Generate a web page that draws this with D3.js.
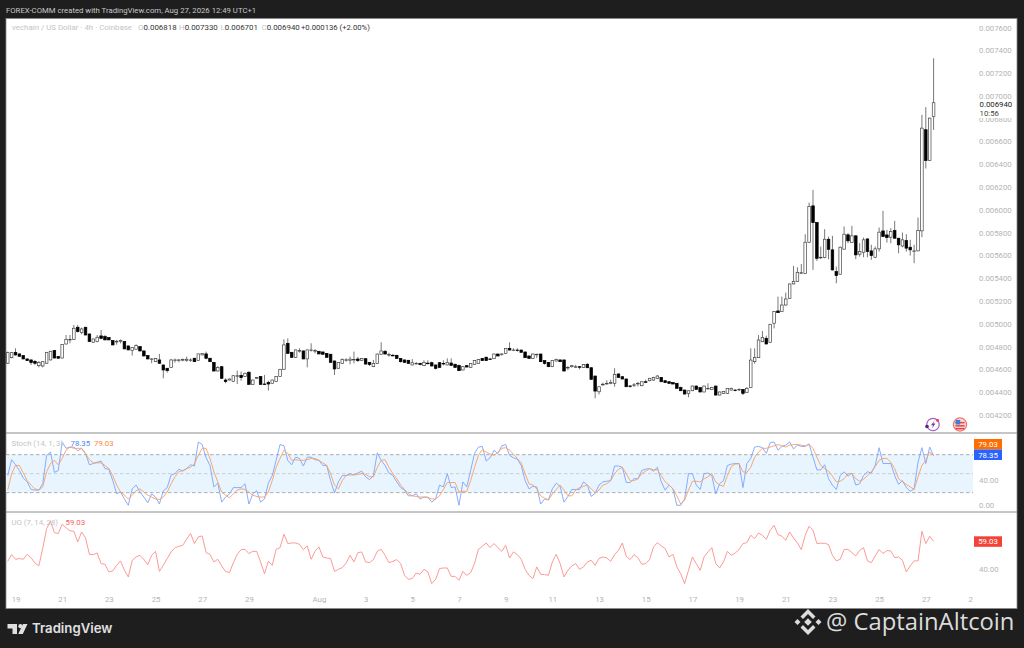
<!DOCTYPE html>
<html lang="en">
    <head>
        <meta charset="utf-8">
        <title>VET / USD 4h</title>
        <script type="text/javascript" src="https://d3js.org/d3.v7.min.js"></script>
        <style>
            html, body { margin: 0; padding: 0; background: #1e1e1e; overflow: hidden; }
            svg { display: block; }
            text { font-family: Roboto, sans-serif; }
            .axis path { display: none; }
            .axis text { font-family: Roboto, sans-serif; font-size: 7.8px; fill: #b4b4b4; }
        </style>
    </head>
    <body>
        <script type="text/javascript">
            // prices are in millionths of a dollar, first bar is two bars before the "19" tick
            var opens = [
                4654,4703,4750,4736,4721,4692,4683,4671,4633,4630,
                4654,4683,4765,4712,4700,4823,4859,4864,4970,4923,
                4970,4911,4838,4844,4894,4888,4879,4853,4841,4844,
                4844,4806,4765,4777,4800,4762,4721,4689,4668,4683,
                4639,4610,4616,4680,4683,4683,4680,4683,4698,4677,
                4727,4736,4698,4662,4586,4624,4507,4507,4493,4545,
                4548,4537,4575,4469,4522,4537,4472,4484,4478,4493,
                4537,4601,4829,4750,4706,4765,4762,4692,4771,4765,
                4759,4753,4741,4733,4674,4610,4653,4683,4680,4685,
                4691,4680,4694,4662,4624,4653,4733,4759,4730,4724,
                4724,4697,4683,4680,4639,4653,4653,4633,4655,4659,
                4639,4659,4653,4639,4656,4645,4636,4595,4633,4618,
                4642,4653,4697,4707,4692,4694,4735,4735,4741,4785,
                4770,4770,4770,4753,4718,4697,4730,4735,4677,4662,
                4624,4674,4683,4683,4615,4624,4624,4624,4618,4645,
                4615,4542,4404,4470,4478,4478,4478,4560,4536,4516,
                4455,4462,4478,4457,4492,4501,4507,4522,4530,4501,
                4492,4484,4478,4440,4419,4390,4413,4454,4440,4402,
                4434,4425,4454,4375,4390,4390,4419,4419,4425,4425,
                4399,4442,4668,4703,4843,4873,4838,5005,5113,5107,
                5165,5224,5350,5373,5443,5443,5716,6035,5888,5584,
                5581,5742,5649,5459,5435,5655,5781,5713,5772,5611,
                5628,5745,5640,5584,5658,5815,5780,5760,5819,5751,
                5683,5731,5672,5640,5640,5816,6703,6433,6818
            ];
            var highs = [
                4756,4753,4785,4739,4724,4695,4689,4683,4674,4671,
                4753,4762,4771,4715,4821,4902,4902,4990,4990,4967,
                4973,4914,4870,4902,4946,4902,4882,4856,4859,4864,
                4847,4809,4794,4820,4803,4765,4724,4698,4698,4736,
                4642,4613,4692,4695,4692,4695,4712,4698,4701,4739,
                4742,4756,4701,4665,4630,4627,4522,4519,4548,4589,
                4581,4572,4584,4510,4534,4540,4551,4501,4510,4540,
                4604,4864,4873,4753,4774,4785,4765,4774,4829,4777,
                4762,4756,4744,4736,4677,4663,4697,4697,4712,4756,
                4710,4700,4697,4665,4683,4738,4838,4770,4747,4736,
                4727,4700,4686,4683,4690,4665,4659,4680,4680,4668,
                4642,4662,4680,4697,4697,4650,4640,4627,4636,4656,
                4680,4691,4700,4712,4695,4738,4738,4744,4788,4838,
                4786,4785,4773,4756,4721,4738,4738,4738,4680,4665,
                4680,4695,4688,4686,4630,4640,4640,4630,4645,4655,
                4618,4545,4451,4485,4505,4510,4610,4565,4539,4519,
                4460,4480,4490,4495,4510,4525,4535,4550,4533,4504,
                4495,4487,4481,4450,4422,4416,4457,4460,4443,4457,
                4478,4448,4457,4405,4410,4437,4440,4425,4434,4428,
                4445,4785,4785,4902,4937,4896,4999,5110,5239,5239,
                5274,5353,5508,5496,5525,5786,6064,6175,5891,5678,
                5830,5765,5772,5502,5678,5854,5795,5860,5775,5707,
                5757,5748,5693,5678,5845,5991,5824,5839,5903,5754,
                5801,5786,5737,5693,5933,6834,6902,6808,7330
            ];
            var lows = [
                4648,4697,4721,4712,4689,4674,4639,4639,4618,4618,
                4651,4680,4697,4695,4697,4820,4829,4861,4923,4908,
                4900,4841,4835,4838,4864,4856,4856,4812,4818,4829,
                4777,4768,4721,4774,4759,4715,4689,4654,4665,4648,
                4522,4572,4613,4660,4662,4671,4668,4666,4665,4674,
                4724,4689,4665,4583,4583,4519,4478,4504,4490,4472,
                4501,4534,4466,4466,4516,4466,4463,4414,4475,4490,
                4534,4598,4738,4703,4703,4747,4689,4618,4756,4741,
                4733,4730,4703,4659,4551,4607,4650,4668,4645,4653,
                4665,4675,4644,4630,4621,4650,4730,4732,4712,4715,
                4694,4660,4656,4650,4636,4645,4636,4630,4645,4627,
                4600,4612,4635,4636,4630,4612,4586,4592,4618,4615,
                4639,4650,4674,4674,4688,4691,4715,4720,4738,4767,
                4760,4756,4747,4700,4694,4694,4700,4665,4642,4621,
                4621,4671,4665,4583,4595,4615,4612,4600,4612,4610,
                4510,4346,4380,4455,4465,4470,4448,4527,4513,4445,
                4440,4445,4450,4453,4480,4495,4500,4515,4489,4481,
                4475,4469,4431,4410,4381,4355,4410,4422,4399,4399,
                4425,4420,4372,4372,4385,4387,4416,4408,4412,4375,
                4396,4440,4650,4700,4840,4820,4835,4960,5095,5104,
                5160,5220,5347,5370,5440,5440,5710,5473,5552,5570,
                5575,5566,5467,5356,5432,5652,5707,5710,5567,5590,
                5584,5584,5561,5576,5634,5763,5713,5707,5748,5619,
                5672,5634,5599,5532,5637,5760,6363,6430,6701
            ];
            var closes = [
                4747,4747,4727,4715,4692,4677,4660,4654,4662,4668,
                4750,4759,4700,4698,4818,4864,4864,4961,4932,4955,
                4902,4844,4867,4882,4873,4859,4859,4815,4847,4853,
                4780,4771,4791,4809,4762,4718,4692,4692,4695,4654,
                4595,4589,4683,4683,4683,4686,4689,4683,4668,4736,
                4739,4698,4668,4586,4618,4522,4493,4516,4545,4545,
                4528,4566,4469,4507,4528,4469,4469,4472,4507,4537,
                4601,4815,4741,4706,4771,4765,4692,4771,4771,4765,
                4736,4733,4706,4662,4604,4660,4688,4685,4690,4688,
                4677,4697,4647,4642,4653,4735,4762,4735,4730,4722,
                4697,4668,4662,4653,4659,4653,4642,4662,4653,4630,
                4609,4618,4650,4662,4636,4618,4589,4624,4621,4653,
                4677,4688,4677,4677,4690,4735,4718,4735,4785,4770,
                4770,4768,4750,4703,4697,4735,4733,4668,4653,4624,
                4677,4688,4668,4586,4618,4633,4624,4622,4642,4615,
                4513,4410,4448,4470,4478,4486,4557,4530,4516,4448,
                4453,4465,4478,4492,4490,4522,4530,4542,4492,4484,
                4478,4472,4434,4413,4384,4413,4454,4425,4402,4454,
                4434,4442,4375,4402,4407,4434,4434,4417,4425,4390,
                4434,4682,4706,4858,4881,4823,4996,5107,5098,5165,
                5218,5350,5373,5452,5449,5716,6029,5888,5575,5584,
                5742,5654,5473,5423,5672,5786,5728,5772,5605,5634,
                5737,5634,5599,5658,5804,5766,5757,5810,5751,5693,
                5737,5664,5649,5640,5818,6717,6433,6805,6940
            ];
            var stochK = [
                47,72,64,55,43,37,25,24,24,34,
                79,84,52,55,100,90,92,92,86,90,
                82,64,66,68,70,58,57,39,18.5,21,
                10,0,26,32,21,13,4,18,13,2,
                23,28,48,50,57,54,58,64,62,100,
                96,75,63,29,35,5,13,18,28,28,
                28,34,2,18,23,5,10,35,47,71,
                96,94,71,64,76,74,62,76,76,72,
                71,63,63,39,19.5,37,47,47,50,48,
                51,54,45,40.5,47,83,71,63,51,47,
                37,28,24,15,15,18,10,13,13,5,
                10,32,29,50,28,29,0,37,29,55,
                82,92,93,70,75,87,82,94,96,79,
                75,73,63,39,26,30,29,2,10,9,
                26,35,30,5,14,25,25,25,37,32,
                14,19,32,37,38,39,62,62,60,36,
                36,42,42,55,57,58,54,60,37,24,
                32,26,0,0,10,50,50,32,25,50,
                51,47,18,34,39,63,65,66,66,28,
                66,74,92,93,91,82,99,100,87,93,
                95,100,89,95,93,93,97,76,56,56,
                64,42,32,25,47,53,46,51,32,34,
                47,53,51,63,91,66,66,66,47,33,
                39,28,22,26,68,91,66,92,78.35
            ];
            var stochD = [
                24,50,63,63,51,39,32,26,24,29,
                53,66,71,64,74,87,92,90,90,90,
                81,72,67,67,67,63,58,47,32,21,
                16,10,16,23,26,21,16,13,10,9,
                13,21,34,45,53,55,58,60,66,79,
                90,90,74,53,37,21,16,12,18,24,
                26,25,21,16,14,13,13,21,39,60,
                74,87,82,71,72,71,71,72,74,74,
                71,67,63,50,32,26,39,47,48,48,
                49,50,49,45,45,60,71,72,60,50,
                42,32,25,18,15,14,13,13,12,10,
                10,15,25,36,36,36,21,22,22,39,
                60,79,88,84,81,79,83,90,91,87,
                81,74,67,50,34,32,26,15,11,8,
                18,25,32,24,15,15,24,28,30,32,
                26,20,24,32,34,39,50,57,60,50,
                39,39,42,50,54,58,56,56,47,37,
                32,26,15,2,8,24,38,38,37,42,
                45,50,37,32,30,47,61,65,66,53,
                52,60,76,84,90,90,92,94,96,94,
                92,95,96,96,95,94,96,90,76,63,
                58,54,46,37,38,42,50,50,42,38,
                41,47,53,61,71,74,74,68,58,42,
                37,33,29,25,45,63,71,84,79.03
            ];
            var uo = [
                45.4,50,46.8,47.3,46.8,50.2,47.9,44.3,42.3,54.1,
                67.7,72.7,64.9,64.3,70.6,68.3,66.1,65.9,58.6,65.4,
                61.3,50.2,50,51.1,43.9,43.4,38.2,38.9,42.7,45.7,
                39.3,34.8,46.1,48.4,49.5,46.6,43.2,49.5,52.2,38.6,
                42.7,47.3,51.8,54.7,55.6,56.3,60.4,64.3,57.5,62,
                62.7,51.3,50.2,45,46.8,42.3,38.6,37.7,44.5,50.2,
                53.4,53.6,50.7,52.2,52.2,45,37,45.4,42.7,53.6,
                54.7,63.8,57.5,57.9,57.9,57,53.4,55.9,46.8,52.2,
                55.2,48.4,47.7,47.3,38.6,40,41.1,44.3,49.5,45,
                51.3,51.8,45,44.5,46.6,52.2,53.6,49.5,44.5,45.4,
                46.6,43.9,35.9,33.2,33.7,37.5,36.6,40,38.2,30.3,
                33.2,40.5,40.9,40.9,35.2,35.2,32.5,38.6,35.9,37.7,
                43.9,53.6,55.6,57.9,54.7,57.5,54.7,52.2,56.3,47.7,
                51.8,50,46.8,40,35.9,33.7,41.6,36.6,36.4,35.9,
                45,50.2,43.9,34.8,39.3,42.3,43.9,40,41.6,45,
                46.1,42.7,47.3,48.4,47.7,45.4,50,52.9,57.9,48.8,
                46.6,50,47.9,43.4,43.9,46.6,55.2,58.1,55.9,54.1,
                48.4,50.2,41.6,37,30.3,39.3,48.4,43.9,39.3,48.4,
                51.8,54.7,43.9,40.9,45,52.2,49.5,51.1,53.4,57.5,
                58.1,63.1,60.9,64.7,63.1,60.4,66.5,69.9,63.6,62.5,
                59.7,65.4,61.3,57.9,53.4,63.1,69.3,66.5,57.5,57.7,
                57.7,56.8,49.5,45.7,46.8,53.4,53.6,51.3,49.1,52.9,
                54.7,45.7,44.5,49.1,53.4,50.7,52.7,52.5,47.9,48.4,
                46.1,38.2,42.3,45.7,45.7,65.9,57.5,62.5,59.03
            ];

            var priceTicks = [4200,4400,4600,4800,5000,5200,5400,5600,5800,6000,6200,6400,6600,6800,7000,7200,7400,7600];
            var dateTicks = [0,12,24,36,48,60,78,90,102,114,126,138,150,162,174,186,198,210,222,234,246];
            var dateLabels = ["19","21","23","25","27","29","Aug","3","5","7","9","11","13","15","17","19","21","23","25","27","29"];
            var stochLevels = [20,50,80];
            var stochTicks = [0,40];
            var uoTicks = [40];

            var w = 1024;
            var h = 648;
            var plotLeft = 6;
            var plotRight = 1017;
            var axisLeft = 973;

            var svg = d3.select("body").append("svg").attr("width", w).attr("height", h);

            var xscale = d3.scaleLinear().domain([0, 234]).range([15.5, 925.8]);
            var yscale = d3.scaleLinear().domain([4200, 7600]).range([415, 27.5]);
            var stochScale = d3.scaleLinear().domain([0, 100]).range([505.3, 442]);
            var uoScale = d3.scaleLinear().domain([40, 59.03]).range([569.3, 541.3]);

            // chart background
            svg.append("rect").attr("x", plotLeft).attr("y", 18.5)
               .attr("width", plotRight - plotLeft).attr("height", 590)
               .attr("fill", "#fff").attr("stroke", "#8a8a8a").attr("stroke-width", 0.8);

            svg.append("clipPath").attr("id", "plot-area").append("rect")
               .attr("x", plotLeft).attr("y", 18).attr("width", axisLeft - plotLeft).attr("height", 592);

            // top strip and legends
            svg.append("text").attr("x", 6).attr("y", 12.5).attr("font-size", 7.75).attr("fill", "#c8c8c8")
               .text("FOREX-COMM created with TradingView.com, Aug 27, 2026 12:49 UTC+1");

            var legend = svg.append("text").attr("x", 12).attr("y", 30).attr("font-size", 7.9).attr("fill", "#c4c4c4");
            legend.append("tspan").text("vechain / US Dollar · 4h · Coinbase");
            var legendParts = [[138, "O", "0.006818"], [179, "H", "0.007330"], [220.5, "L", "0.006701"], [261.5, "C", "0.006940"]];
            legendParts.forEach(function (d) {
                legend.append("tspan").attr("x", d[0]).text(d[1]);
                legend.append("tspan").attr("fill", "#333").text(d[2]);
            });
            legend.append("tspan").attr("x", 301).attr("fill", "#333").attr("font-size", 7.7).text("+0.000136 (+2.00%)");

            // candles
            var bars = d3.range(opens.length);
            var candles = svg.append("g").attr("clip-path", "url(#plot-area)");
            candles.selectAll("line").data(bars).enter().append("line")
               .attr("x1", function (i) { return xscale(i - 2); })
               .attr("x2", function (i) { return xscale(i - 2); })
               .attr("y1", function (i) { return yscale(highs[i]); })
               .attr("y2", function (i) { return yscale(lows[i]); })
               .attr("stroke", "#555").attr("stroke-width", 0.8);
            candles.selectAll("rect").data(bars).enter().append("rect")
               .attr("x", function (i) { return xscale(i - 2) - 1.3; })
               .attr("width", 2.6)
               .attr("y", function (i) { return yscale(Math.max(opens[i], closes[i])); })
               .attr("height", function (i) { return Math.max(0.6, Math.abs(yscale(opens[i]) - yscale(closes[i]))); })
               .attr("fill", function (i) { return closes[i] >= opens[i] ? "#fff" : "#000"; })
               .attr("stroke", function (i) { return closes[i] >= opens[i] ? "#444" : "#000"; })
               .attr("stroke-width", 0.7);

            // price axis
            svg.append("g").attr("class", "axis").attr("transform", "translate(976,0)")
               .call(d3.axisRight(yscale).tickValues(priceTicks).tickSize(0).tickPadding(3)
                       .tickFormat(function (d) { return (d / 1e6).toFixed(6); }));

            // last price tag
            svg.append("rect").attr("x", 974).attr("y", 99).attr("width", 42).attr("height", 19).attr("fill", "#fff");
            svg.append("text").attr("x", 979.5).attr("y", 107).attr("font-size", 7.8).attr("fill", "#222")
               .text((closes[closes.length - 1] / 1e6).toFixed(6));
            svg.append("text").attr("x", 979.5).attr("y", 115.5).attr("font-size", 7.8).attr("fill", "#444").text("10:56");

            // pane separators
            [433, 512].forEach(function (d) {
                svg.append("line").attr("x1", plotLeft).attr("x2", plotRight).attr("y1", d).attr("y2", d)
                   .attr("stroke", "#8c8c8c").attr("stroke-width", 1);
            });

            // stochastic pane
            svg.append("rect").attr("x", plotLeft).attr("width", axisLeft - plotLeft)
               .attr("y", stochScale(stochLevels[2]))
               .attr("height", stochScale(stochLevels[0]) - stochScale(stochLevels[2]))
               .attr("fill", "#e8f4fe");
            svg.selectAll(".level").data(stochLevels).enter().append("line").attr("class", "level")
               .attr("x1", plotLeft).attr("x2", axisLeft)
               .attr("y1", function (d) { return stochScale(d); })
               .attr("y2", function (d) { return stochScale(d); })
               .attr("stroke", function (d) { return d == 50 ? "#c4c4c4" : "#9a9a9a"; })
               .attr("stroke-width", 0.8).attr("stroke-dasharray", "3.5,2.5");

            var stochLine = d3.line()
               .x(function (d, i) { return xscale(i - 2); })
               .y(function (d) { return stochScale(d); });
            svg.append("path").datum(stochK).attr("d", stochLine).attr("clip-path", "url(#plot-area)")
               .attr("fill", "none").attr("stroke", "#7ea4fb").attr("stroke-width", 0.9);
            svg.append("path").datum(stochD).attr("d", stochLine).attr("clip-path", "url(#plot-area)")
               .attr("fill", "none").attr("stroke", "#fb9f62").attr("stroke-width", 0.9);

            var stochLegend = svg.append("text").attr("x", 11.5).attr("y", 446).attr("font-size", 7.8).attr("fill", "#c4c4c4");
            stochLegend.append("tspan").text("Stoch (14, 1, 3)");
            stochLegend.append("tspan").attr("x", 70.5).attr("fill", "#5585f5").text("78.35");
            stochLegend.append("tspan").attr("x", 94).attr("fill", "#fb8a3c").text("79.03");

            svg.append("g").attr("class", "axis").attr("transform", "translate(976,0)")
               .call(d3.axisRight(stochScale).tickValues(stochTicks).tickSize(0).tickPadding(3).tickFormat(d3.format(".2f")));

            // unit tag boxes on the right axis
            var tags = [[439, "#ff6d00", stochD[stochD.length - 1]], [449.5, "#2962ff", stochK[stochK.length - 1]], [536.3, "#f44336", uo[uo.length - 1]]];
            tags.forEach(function (d) {
                svg.append("rect").attr("x", 974).attr("y", d[0]).attr("width", 28).attr("height", 10.5).attr("fill", d[1]);
                svg.append("text").attr("x", 988).attr("y", d[0] + 8).attr("font-size", 7.8).attr("fill", "#fff")
                   .attr("text-anchor", "middle").text(d[2].toFixed(2));
            });

            // ultimate oscillator pane
            var uoLine = d3.line()
               .x(function (d, i) { return xscale(i - 2); })
               .y(function (d) { return uoScale(d); });
            svg.append("path").datum(uo).attr("d", uoLine).attr("clip-path", "url(#plot-area)")
               .attr("fill", "none").attr("stroke", "#fb8f8a").attr("stroke-width", 0.9);

            var uoLegend = svg.append("text").attr("x", 11.5).attr("y", 525).attr("font-size", 7.8).attr("fill", "#c4c4c4");
            uoLegend.append("tspan").text("UO (7, 14, 28)");
            uoLegend.append("tspan").attr("x", 65.5).attr("fill", "#f8615c").text("59.03");

            svg.append("g").attr("class", "axis").attr("transform", "translate(976,0)")
               .call(d3.axisRight(uoScale).tickValues(uoTicks).tickSize(0).tickPadding(3).tickFormat(d3.format(".2f")));

            // time axis, clip is on an outer group so it stays in page coordinates
            svg.append("g").attr("clip-path", "url(#plot-area)")
               .append("g").attr("class", "axis").attr("transform", "translate(0,593)")
               .call(d3.axisBottom(xscale).tickValues(dateTicks).tickSize(0).tickPadding(3)
                       .tickFormat(function (d, i) { return dateLabels[i]; }));

            // event icons
            var bolt = svg.append("g").attr("transform", "translate(933,424.5)");
            bolt.append("circle").attr("r", 6.2).attr("fill", "#fff").attr("stroke", "#a35fc4").attr("stroke-width", 1.2);
            bolt.append("path").attr("d", "M1.6,-4L-2,0.7H0.1L-1,4L2.4,-0.9H0.2Z").attr("fill", "#7b2fa8");
            bolt.append("circle").attr("cx", 4.6).attr("cy", -4).attr("r", 1.4).attr("fill", "#f03a3a");
            bolt.append("circle").attr("cx", -6).attr("cy", 2).attr("r", 1.8).attr("fill", "#5a1f8a");

            var flag = svg.append("g").attr("transform", "translate(960,424.5)");
            flag.append("circle").attr("r", 6.6).attr("fill", "#fbdcdc").attr("stroke", "#f2736c").attr("stroke-width", 1.2);
            [-2.6, 0.6, 3.4].forEach(function (d) {
                flag.append("rect").attr("x", -4.6).attr("y", d).attr("width", 9.2).attr("height", 1.5).attr("fill", "#e8433f");
            });
            flag.append("rect").attr("x", -4.4).attr("y", -4.6).attr("width", 4.6).attr("height", 4.6).attr("fill", "#3d7fd1");

            // footer logos
            var tvLogo = svg.append("g").attr("fill", "#e0e0e0");
            tvLogo.append("path").attr("d", "M7.5,624H17V634H12.5V628.4H7.5Z");
            tvLogo.append("circle").attr("cx", 20.4).attr("cy", 626.2).attr("r", 2.1);
            tvLogo.append("path").attr("d", "M23,624H27.5L22.8,634H18.2Z");
            svg.append("text").attr("x", 32).attr("y", 633).attr("font-size", 13.2).attr("font-weight", 600)
               .attr("fill", "#e0e0e0").style("font-family", "Inter, sans-serif").text("TradingView");

            var diamonds = [[0, 0, 3.8], [-10.5, 0, 3], [10.5, 0, 3]];
            var bnb = svg.append("g").attr("transform", "translate(808,622)").attr("fill", "#dcdcdc");
            diamonds.forEach(function (d) {
                bnb.append("path").attr("d", "M" + (d[0] - d[2]) + "," + d[1] + "L" + d[0] + "," + (d[1] - d[2]) + "L" + (d[0] + d[2]) + "," + d[1] + "L" + d[0] + "," + (d[1] + d[2]) + "Z");
            });
            bnb.append("path").attr("d", "M0,-13L7.5,-5.5L5,-3L0,-8L-5,-3L-7.5,-5.5Z");
            bnb.append("path").attr("d", "M0,13L7.5,5.5L5,3L0,8L-5,3L-7.5,5.5Z");

            svg.append("text").attr("x", 826).attr("y", 630).attr("font-size", 23.8).attr("fill", "#dcdcdc")
               .style("font-family", "'Open Sans', sans-serif").text("@ CaptainAltcoin");
        </script>
    </body>
</html>
